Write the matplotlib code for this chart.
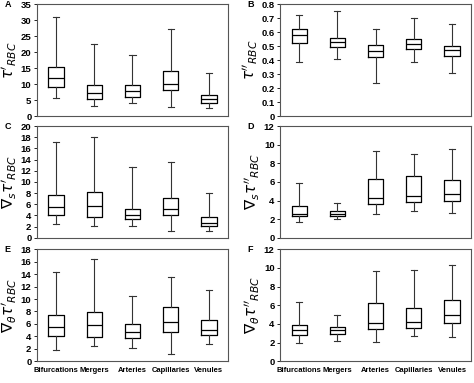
import numpy as np
import matplotlib.pyplot as plt

plt.rcParams['font.family'] = ['Liberation Sans', 'DejaVu Sans']
plt.rcParams['mathtext.fontset'] = 'dejavusans'

categories = ["Bifurcations", "Mergers", "Arteries", "Capillaries", "Venules"]

# each entry: [whisker low, Q1, median, Q3, whisker high] per category
tau1 = [[5.7, 9.2, 11.8, 15.2, 31.0],
        [3.1, 5.3, 7.3, 9.6, 22.7],
        [4.2, 6.1, 7.8, 9.8, 19.0],
        [2.9, 8.3, 10.1, 14.1, 27.3],
        [2.4, 4.1, 5.3, 6.5, 13.4]]
tau2 = [[0.39, 0.525, 0.58, 0.62, 0.72],
        [0.41, 0.495, 0.53, 0.56, 0.75],
        [0.235, 0.42, 0.465, 0.505, 0.62],
        [0.39, 0.48, 0.515, 0.55, 0.70],
        [0.31, 0.43, 0.47, 0.50, 0.655]]
grad_s_tau1 = [[2.5, 4.0, 5.5, 7.6, 17.1],
               [2.1, 3.7, 5.7, 8.2, 18.0],
               [2.1, 3.3, 4.0, 5.2, 12.7],
               [1.2, 4.0, 5.2, 7.2, 13.5],
               [1.3, 2.2, 2.7, 3.7, 8.0]]
grad_s_tau2 = [[1.65, 2.3, 2.6, 3.4, 5.9],
               [2.0, 2.35, 2.6, 2.9, 3.75],
               [2.6, 3.6, 4.3, 6.3, 9.35],
               [2.9, 3.85, 4.5, 6.6, 9.0],
               [2.7, 3.95, 4.7, 6.2, 9.5]]
grad_t_tau1 = [[1.8, 4.0, 5.5, 7.4, 14.3],
               [2.4, 3.9, 5.8, 7.9, 16.4],
               [2.1, 3.7, 4.7, 6.0, 10.5],
               [1.2, 4.7, 6.25, 8.7, 13.6],
               [2.7, 4.2, 5.0, 6.6, 11.4]]
grad_t_tau2 = [[2.0, 2.8, 3.3, 3.9, 6.3],
               [2.2, 2.95, 3.3, 3.65, 4.95],
               [2.1, 3.5, 4.1, 6.2, 9.65],
               [2.7, 3.55, 4.2, 5.7, 9.8],
               [2.6, 4.1, 4.95, 6.55, 10.3]]

panels = [
    ("A", tau1, r"$\tau'_{RBC}$", 35, 5),
    ("B", tau2, r"$\tau''_{RBC}$", 0.8, 0.1),
    ("C", grad_s_tau1, r"$\nabla_s\tau'_{RBC}$", 20, 2),
    ("D", grad_s_tau2, r"$\nabla_s\tau''_{RBC}$", 12, 2),
    ("E", grad_t_tau1, r"$\nabla_\theta\tau'_{RBC}$", 18, 2),
    ("F", grad_t_tau2, r"$\nabla_\theta\tau''_{RBC}$", 12, 2),
]

fig = plt.figure(figsize=(4.74, 3.83), dpi=100)
lefts = [0.078, 0.591]
bottoms = [0.697, 0.379, 0.057]
w = 0.403
h = 0.292

for i, (letter, data, ylab, ymax, step) in enumerate(panels):
    ax = fig.add_axes([lefts[i % 2], bottoms[i // 2], w, h])
    stats = []
    for lo, q1, med, q3, hi in data:
        stats.append(dict(whislo=lo, q1=q1, med=med, q3=q3, whishi=hi, fliers=[]))
    ax.bxp(stats, widths=0.4, showfliers=False,
           boxprops=dict(color="black", linewidth=0.9),
           medianprops=dict(color="black", linewidth=0.9),
           whiskerprops=dict(color="#333333", linewidth=0.8),
           capprops=dict(color="#333333", linewidth=0.8),
           capwidths=0.16)
    ax.set_xlim(0.5, 5.5)
    ax.set_ylim(0, ymax)
    ticks = np.arange(0, ymax + step / 2, step)
    ax.set_yticks(ticks)
    ax.set_yticklabels(["%g" % round(t, 2) for t in ticks])
    ax.tick_params(axis="y", labelsize=6.8, length=2, width=0.6, pad=2)
    for lab in ax.get_yticklabels():
        lab.set_fontweight("bold")
    if i >= 4:
        ax.set_xticks(range(1, 6))
        ax.set_xticklabels(categories, fontsize=5.5, fontweight="bold")
        ax.tick_params(axis="x", length=0, pad=4)
    else:
        ax.set_xticks([])
    for sp in ax.spines.values():
        sp.set_color("#555555")
        sp.set_linewidth(0.8)
    ax.set_ylabel(ylab, fontsize=11, labelpad=1)
    ax.text(-0.17, 1.0, letter, transform=ax.transAxes, fontsize=6.5,
            fontweight="bold", ha="left", va="center")

fig.savefig("out.png", dpi=100)
